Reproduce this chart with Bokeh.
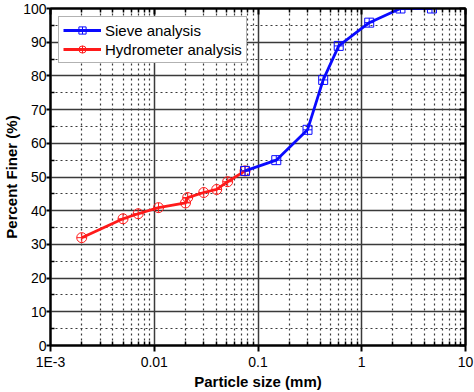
from bokeh.plotting import figure
from bokeh.models import FixedTicker, LogAxis, LinearAxis, Legend
from bokeh.embed import file_html
from bokeh.resources import INLINE

# Data
sieve_size = [0.075, 0.15, 0.3, 0.425, 0.6, 1.18, 2.36, 4.75]
sieve_finer = [51.8, 55.0, 64.0, 78.8, 88.9, 95.8, 100.0, 100.0]
hydro_size = [0.002, 0.005, 0.007, 0.011, 0.020, 0.021, 0.030, 0.040, 0.051, 0.075]
hydro_finer = [32.0, 37.6, 39.1, 40.9, 42.3, 43.9, 45.4, 46.3, 48.6, 51.8]

x_major = [0.001, 0.01, 0.1, 1, 10]
x_labels = ["1E-3", "0.01", "0.1", "1", "10"]
y_major = [0, 10, 20, 30, 40, 50, 60, 70, 80, 90, 100]
y_minor = [5, 15, 25, 35, 45, 55, 65, 75, 85, 95]

x_minor = [m * d for d in [0.001, 0.01, 0.1, 1] for m in range(2, 10)]

FONT = "Liberation Sans"

p = figure(width=474, height=392, x_axis_type="log", x_range=(0.001, 10), y_range=(0, 100),
           output_backend="svg", toolbar_location=None,
           min_border_top=8, min_border_right=9, min_border_left=10, min_border_bottom=10)

p.outline_line_color = "black"
p.outline_line_width = 2

xt = FixedTicker(ticks=x_major, minor_ticks=x_minor)
yt = FixedTicker(ticks=y_major, minor_ticks=y_minor)

p.xaxis.ticker = xt
p.yaxis.ticker = yt
p.xaxis.major_label_overrides = {v: l for v, l in zip(x_major, x_labels)}

for ax in [p.xaxis[0], p.yaxis[0]]:
    ax.axis_line_width = 2
    ax.axis_line_color = "black"
    ax.major_tick_line_width = 2
    ax.major_tick_out = 6
    ax.major_tick_in = 0
    ax.minor_tick_in = 4
    ax.minor_tick_out = 0
    ax.minor_tick_line_width = 1.5
    ax.major_label_text_font = FONT
    ax.major_label_text_font_size = "14px"
    ax.major_label_text_color = "black"
    ax.axis_label_text_font = FONT
    ax.axis_label_text_font_size = "15px"
    ax.axis_label_text_font_style = "bold"
    ax.axis_label_text_color = "black"
    ax.major_label_standoff = 2
    ax.axis_label_standoff = 0

p.yaxis.major_tick_out = 4
p.yaxis.major_label_standoff = 0

p.xaxis.axis_label = "Particle size (mm)"
p.yaxis.axis_label = "Percent Finer (%)"

# mirror axes (ticks only)
top = LogAxis(ticker=FixedTicker(ticks=x_major, minor_ticks=x_minor),
              major_label_overrides={v: "" for v in x_major})
right = LinearAxis(ticker=FixedTicker(ticks=y_major, minor_ticks=y_minor),
                   major_label_overrides={v: "" for v in y_major})
for ax in [top, right]:
    ax.major_label_standoff = 0
    ax.major_tick_out = 0
    ax.major_tick_in = 6
    ax.minor_tick_out = 0
    ax.minor_tick_in = 4
    ax.axis_line_width = 2
    ax.major_tick_line_width = 2
    ax.minor_tick_line_width = 1.5
p.add_layout(top, "above")
p.add_layout(right, "right")

# grids
for g in [p.xgrid[0], p.ygrid[0]]:
    g.grid_line_color = "#3a3a3a"
    g.grid_line_width = 1.5
    g.minor_grid_line_color = "#3a3a3a"
    g.minor_grid_line_width = 1.2
    g.minor_grid_line_dash = "2 3"

# data
hl = p.line(hydro_size, hydro_finer, line_color="#ff1a1a", line_width=2.8)
hs = p.scatter(hydro_size, hydro_finer, marker="circle_cross", size=10, fill_color=None,
               line_color="#ff1a1a", line_width=1)
sl = p.line(sieve_size, sieve_finer, line_color="#0a0aff", line_width=2.8)
ss = p.scatter(sieve_size, sieve_finer, marker="square_cross", size=9, fill_color=None,
               line_color="#0a0aff", line_width=1)

legend = Legend(items=[("Sieve analysis", [sl, ss]), ("Hydrometer analysis", [hl, hs])],
                location="top_left")
legend.label_text_font = FONT
legend.label_text_font_size = "15px"
legend.label_text_color = "black"
legend.border_line_color = "#666666"
legend.border_line_width = 1
legend.background_fill_alpha = 1
legend.glyph_width = 38
legend.glyph_height = 18
legend.label_height = 18
legend.spacing = 1
legend.padding = 4
legend.margin = 8
legend.label_standoff = 4
p.add_layout(legend)

open("out.html", "w").write(file_html(p, INLINE))
